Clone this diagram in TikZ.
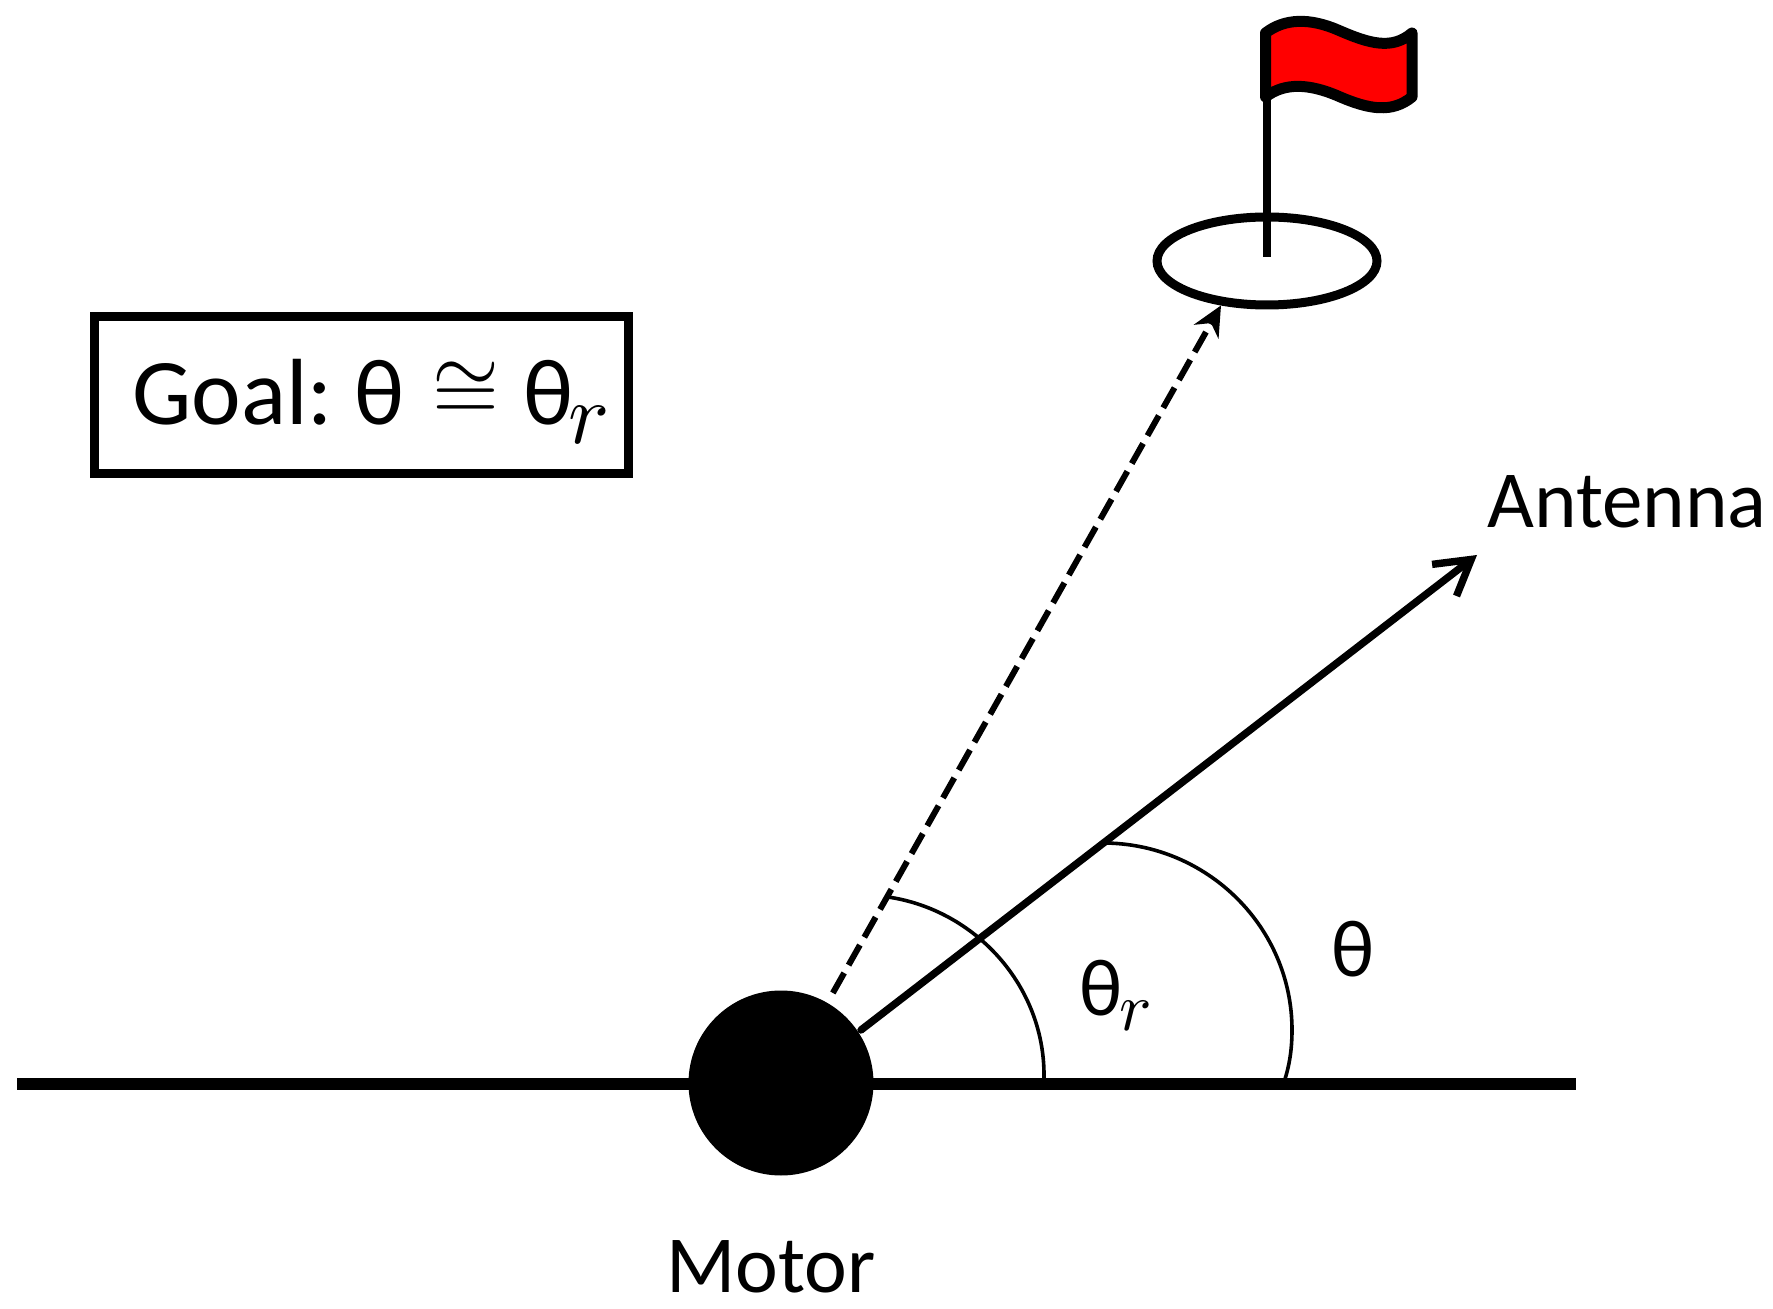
\documentclass[tikz,border=0pt]{standalone}
\usepackage{fontspec}
\setmainfont{Carlito}
\usetikzlibrary{arrows.meta,shapes.geometric}
\newcommand{\bigsym}[2]{{\fontsize{10pt}{12pt}\selectfont\scalebox{#1}{$#2$}}}
\tikzset{
    bigtext/.style={font=\fontsize{40.5pt}{49pt}\selectfont, inner sep=0pt},
    goaltext/.style={font=\fontsize{47pt}{59pt}\selectfont},
    angarc/.style={line width=1.8pt},
    thick line/.style={line width=3.7pt, line cap=round}
}
\begin{document}
\begin{tikzpicture}[>=stealth, x=0.5pt, y=-0.5pt]
        \useasboundingbox (0,0) rectangle (1773,1309);

        % The ground line
        \coordinate (groundleft) at (17,1084);
        \coordinate (groundright) at (1576,1084);
        \draw[line width=6pt] (groundleft) -- (groundright);

        % The motor and its label
        \node[circle, fill=black, inner sep=0pt, minimum size=92.5pt] (motor) at (781,1083) {};
        \node[bigtext, anchor=base] (motorlabel) at (771,1292) {Motor};

        % The hole below the flag
        \node[ellipse, draw, line width=4.5pt, inner sep=0pt, minimum width=110pt, minimum height=44pt] (hole) at (1267,261) {};

        % The flag
        \coordinate (poletop) at (1267,95);
        \coordinate (polefoot) at (1267,257);
        \draw[line width=3.7pt] (poletop) -- (polefoot);
        \draw[fill=red, line width=5.5pt, line join=round] (1265.5,33)
            .. controls (1285,18) and (1310,18) .. (1338,30)
            .. controls (1370,44) and (1392,50) .. (1412,33)
            -- (1412,97)
            .. controls (1392,113) and (1370,110) .. (1338,96)
            .. controls (1310,84) and (1285,82) .. (1265.5,97) -- cycle;

        % The box with the goal
        \node[draw, line width=4.5pt, goaltext, anchor=center, minimum width=267pt, minimum height=78.5pt, inner xsep=0pt, inner ysep=0pt, text height=43.5pt, text depth=14pt] (goal) at (361,395.5) {\hspace*{10pt}Goal:\hspace{11pt}θ\hspace{13.8pt}\raisebox{4.3pt}{\bigsym{4.3}{\cong}}\hspace{12.2pt}θ\hspace{-2.5pt}\raisebox{-9.5pt}{\bigsym{4.3}{r}}};

        % Dashed line from the motor to the hole
        \draw[line width=3pt, dash pattern=on 11.5pt off 4.5pt, shorten <=5.5pt, -{Stealth[length=15pt, width=14pt]}] (motor.60) -- (hole.224);

        % The antenna arrow and its label
        \coordinate (antennatip) at (1477,555);
        \draw[thick line, -{Straight Barb[length=17pt, width=20pt]}] (861,1030) -- (antennatip);
        \node[bigtext, anchor=base west] (antennalabel) at (1487,528) {Antenna};

        % The arc for the antenna angle
        \draw[angarc] (1103,843) .. controls (1207,843) and (1292,927) .. (1292,1030)
            .. controls (1292,1047) and (1290,1063) .. (1285,1079);
        \node[bigtext, anchor=base] (thetalabel) at (1353,977) {θ};

        % The arc for the reference angle
        \draw[angarc] (888,897) .. controls (976,910) and (1044,986) .. (1044,1075) -- (1044,1079);
        \node[bigtext, anchor=base west] (refthetalabel) at (1079,1015) {θ\hspace{-1.5pt}\raisebox{-7.5pt}{\bigsym{3.4}{r}}};
    \end{tikzpicture}
\end{document}
